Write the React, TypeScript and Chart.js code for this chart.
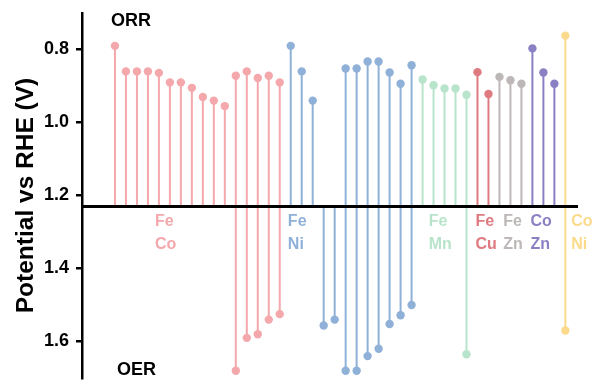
import React, { useEffect, useRef } from "react";
import { Chart, registerables } from "chart.js";
Chart.register(...registerables);

// ---- data ----
const BASE = 1.23; // equilibrium potential (V vs RHE)
const yTicks = [0.8, 1.0, 1.2, 1.4, 1.6];
const groupNames = ["Fe Co", "Fe Ni", "Fe Mn", "Fe Cu", "Fe Zn", "Co Zn", "Co Ni"];

const feCoORR = [0.79, 0.86, 0.86, 0.86, 0.864, 0.89, 0.89, 0.905, 0.93, 0.94, 0.955, 0.872, 0.86, 0.878, 0.872, 0.89];
const feCoOER = [null, null, null, null, null, null, null, null, null, null, null, 1.68, 1.59, 1.58, 1.54, 1.525];
const feNiORR = [0.79, 0.86, 0.94, null, null, 0.852, 0.852, 0.833, 0.833, 0.863, 0.894, 0.843];
const feNiOER = [null, null, null, 1.556, 1.54, 1.68, 1.68, 1.64, 1.62, 1.552, 1.528, 1.5];
const feMnORR = [0.882, 0.898, 0.907, 0.907, 0.924];
const feMnOER = [null, null, null, null, 1.635];
const feCuORR = [0.862, 0.922];
const feCuOER = [null, null];
const feZnORR = [0.875, 0.884, 0.894];
const feZnOER = [null, null, null];
const coZnORR = [0.797, 0.863, 0.894];
const coZnOER = [null, null, null];
const coNiORR = [0.762];
const coNiOER = [1.57];

const groupORR = [feCoORR, feNiORR, feMnORR, feCuORR, feZnORR, coZnORR, coNiORR];
const groupOER = [feCoOER, feNiOER, feMnOER, feCuOER, feZnOER, coZnOER, coNiOER];

// ---- styles ----
const groupColors = ["#f4a8ac", "#8fb1d8", "#b8e4cb", "#df7a81", "#bdb7b7", "#8a80c4", "#fbdb8b"];
const labelXIdx = [3.65, 15.74, 28.56, 32.82, 35.34, 37.83, 41.54];
const FONT = "'Liberation Sans', Arial, Helvetica, sans-serif";

function buildStems(orr: (number | null)[], oer: (number | null)[], start: number) {
  const pts: any[] = [];
  orr.forEach((v, i) => {
    const x = start + i;
    if (v != null) {
      pts.push({ x, y: BASE }, { x, y: v }, { x, y: null });
    }
    const o = oer[i];
    if (o != null) {
      pts.push({ x, y: BASE }, { x, y: o }, { x, y: null });
    }
  });
  return pts;
}

const textPlugin = {
  id: "textLabels",
  afterDatasetsDraw(chart: any) {
    const { ctx, chartArea, scales } = chart;
    const xs = scales.x;
    const ys = scales.y;
    const baseY = ys.getPixelForValue(BASE);
    ctx.save();
    ctx.textBaseline = "middle";
    ctx.textAlign = "left";
    ctx.font = `bold 16px ${FONT}`;
    groupNames.forEach((name, i) => {
      const [a, b] = name.split(" ");
      const px = xs.getPixelForValue(labelXIdx[i]);
      ctx.fillStyle = groupColors[i];
      ctx.fillText(a, px, baseY + 15);
      ctx.fillText(b, px, baseY + 38);
    });
    ctx.fillStyle = "#000";
    ctx.font = `bold 18px ${FONT}`;
    ctx.fillText("ORR", chartArea.left + 29, chartArea.top + 8);
    ctx.fillText("OER", chartArea.left + 35, chartArea.bottom - 8);
    ctx.restore();
  },
};

export default function App() {
  const ref = useRef<HTMLCanvasElement | null>(null);
  useEffect(() => {
    if (!ref.current) return;
    let start = 0;
    const datasets: any[] = [];
    groupORR.forEach((orr, g) => {
      datasets.push({
        type: "line",
        data: buildStems(orr, groupOER[g], start),
        borderColor: groupColors[g],
        backgroundColor: groupColors[g],
        borderWidth: 2,
        spanGaps: false,
        pointRadius: (c: any) => (c.raw && c.raw.y != null && c.raw.y !== BASE ? 4.2 : 0),
        pointBorderWidth: 0,
        pointHoverRadius: 0,
        clip: false,
        order: 1,
      });
      start += orr.length;
    });
    datasets.push({
      type: "line",
      data: [
        { x: -3, y: BASE },
        { x: 42.15, y: BASE },
      ],
      borderColor: "#000",
      borderWidth: 3,
      pointRadius: 0,
      order: 0,
    });

    const chart = new Chart(ref.current, {
      type: "line",
      data: { datasets },
      options: {
        animation: false,
        responsive: true,
        maintainAspectRatio: false,
        events: [],
        layout: { padding: { top: 13, bottom: 10, right: 22, left: 0 } },
        plugins: { legend: { display: false }, tooltip: { enabled: false } },
        scales: {
          x: { type: "linear", min: -3, max: 42.15, display: false },
          y: {
            type: "linear",
            reverse: true,
            min: 0.7,
            max: 1.7,
            afterBuildTicks: (s: any) => {
              s.ticks = yTicks.map((v) => ({ value: v }));
            },
            afterFit: (s: any) => {
              s.width = 82;
              s.paddingTop = 0;
              s.paddingBottom = 0;
            },
            ticks: {
              color: "#000",
              padding: 7,
              font: { family: FONT, size: 18, weight: "bold" },
              callback: (v: any) => Number(v).toFixed(1),
            },
            grid: {
              display: true,
              drawOnChartArea: false,
              drawTicks: true,
              tickLength: 6,
              color: "#000",
              lineWidth: 2.5,
            },
            border: { display: true, color: "#000", width: 2.5 },
            title: {
              display: true,
              text: "Potential vs RHE (V)",
              color: "#000",
              font: { family: FONT, size: 24.5, weight: "bold" },
              padding: { top: 12, bottom: 0 },
            },
          },
        },
      },
      plugins: [textPlugin],
    } as any);
    return () => chart.destroy();
  }, []);
  return (
    <div style={{ position: "fixed", left: 0, top: 0, width: 600, height: 388, background: "#fff" }}>
      <canvas ref={ref} />
    </div>
  );
}
